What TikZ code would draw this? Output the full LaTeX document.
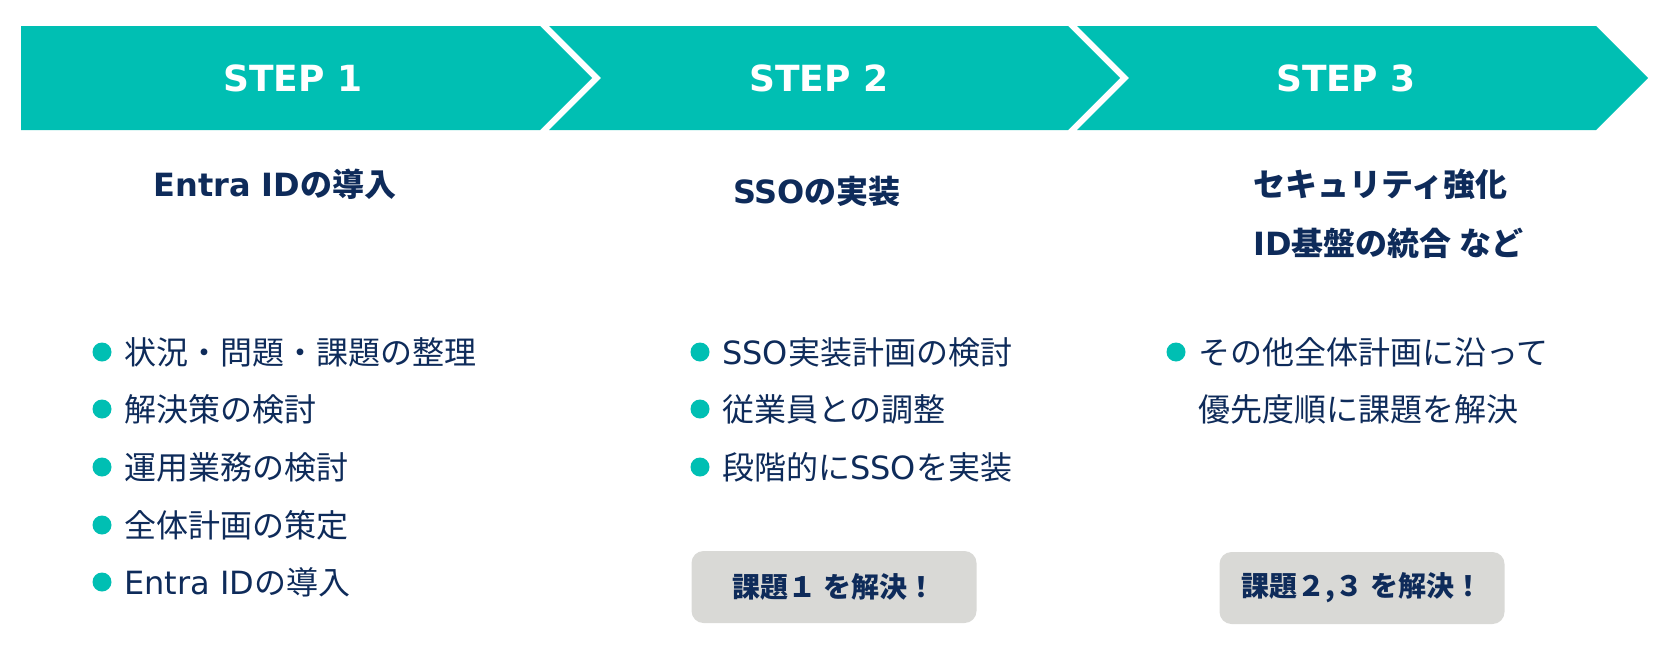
\documentclass[tikz,border=0pt]{standalone}
\usepackage{fontspec}
\setmainfont{DejaVu Sans}
\newfontfamily\cjk{Noto Sans CJK JP}
\usepackage{tikz}
\usetikzlibrary{positioning}

\definecolor{stepteal}{RGB}{0,191,179}
\definecolor{navy}{RGB}{14,43,90}
\definecolor{boxgrey}{RGB}{217,217,214}

\begin{document}
\begin{tikzpicture}[x=0.5pt,y=-0.5pt,
	band/.style={fill=stepteal},
	steplabel/.style={text=white,font=\fontsize{18}{20}\selectfont\bfseries},
	heading/.style={text=navy,font=\fontsize{16}{19}\selectfont\bfseries,inner sep=0pt},
	item/.style={text=navy,font=\fontsize{16}{19}\selectfont,anchor=west,inner sep=0pt},
	dot/.style={circle,fill=stepteal,inner sep=0pt,minimum size=9.5pt},
	resultbox/.style={fill=boxgrey,rounded corners=6pt,minimum width=142.5pt,minimum height=36pt,
		text=navy,font=\fontsize{14}{16}\selectfont\bfseries\cjk}]
	\useasboundingbox (0,0) rectangle (1668,653);
	
	%chevrons
	\fill[band] (21,26)   -- (540,26)  -- (592,78)  -- (540,130)  -- (21,130)   -- cycle;
	\fill[band] (549,26)  -- (1068,26) -- (1120,78) -- (1068,130) -- (549,130)  -- (601,78)  -- cycle;
	\fill[band] (1077,26) -- (1596,26) -- (1648,78) -- (1596,130) -- (1077,130) -- (1129,78) -- cycle;
	
	%step labels
	\node[steplabel] (step1) at (293,78)  {STEP 1};
	\node[steplabel] (step2) at (819,78)  {STEP 2};
	\node[steplabel] (step3) at (1346,78) {STEP 3};
	
	%headings
	\node[heading] (title1) at (275,184)  {Entra ID{\cjk の導入}};
	\node[heading] (title2) at (817,191)  {SSO{\cjk の実装}};
	\node[heading,anchor=west] (title3a) at (1253,184) {\cjk セキュリティ強化};
	\node[heading,anchor=west] (title3b) at (1253,243) {ID{\cjk 基盤の統合 など}};
	
	%step 1 items
	\node[dot] (d11) at (102,352) {};
	\node[dot] (d12) at (102,409) {};
	\node[dot] (d13) at (102,467) {};
	\node[dot] (d14) at (102,525) {};
	\node[dot] (d15) at (102,582) {};
	\node[item,right=6pt of d11] (i11) {\cjk 状況・問題・課題の整理};
	\node[item,right=6pt of d12] (i12) {\cjk 解決策の検討};
	\node[item,right=6pt of d13] (i13) {\cjk 運用業務の検討};
	\node[item,right=6pt of d14] (i14) {\cjk 全体計画の策定};
	\node[item,right=6pt of d15] (i15) {Entra ID{\cjk の導入}};
	
	%step 2 items
	\node[dot] (d21) at (700,352) {};
	\node[dot] (d22) at (700,409) {};
	\node[dot] (d23) at (700,467) {};
	\node[item,right=6pt of d21] (i21) {SSO{\cjk 実装計画の検討}};
	\node[item,right=6pt of d22] (i22) {\cjk 従業員との調整};
	\node[item,right=6pt of d23] (i23) {{\cjk 段階的に}SSO{\cjk を実装}};
	
	%step 3 items
	\node[dot] (d31) at (1176,352) {};
	\node[item,right=6pt of d31] (i31) {\cjk その他全体計画に沿って};
	\node[item] (i32) at (i31.west |- 0,409) {\cjk 優先度順に課題を解決};
	
	%results
	\node[resultbox] (box1) at (834,587)  {課題１ を解決！};
	\node[resultbox] (box2) at (1362,588) {課題２,３ を解決！};
\end{tikzpicture}
\end{document}
